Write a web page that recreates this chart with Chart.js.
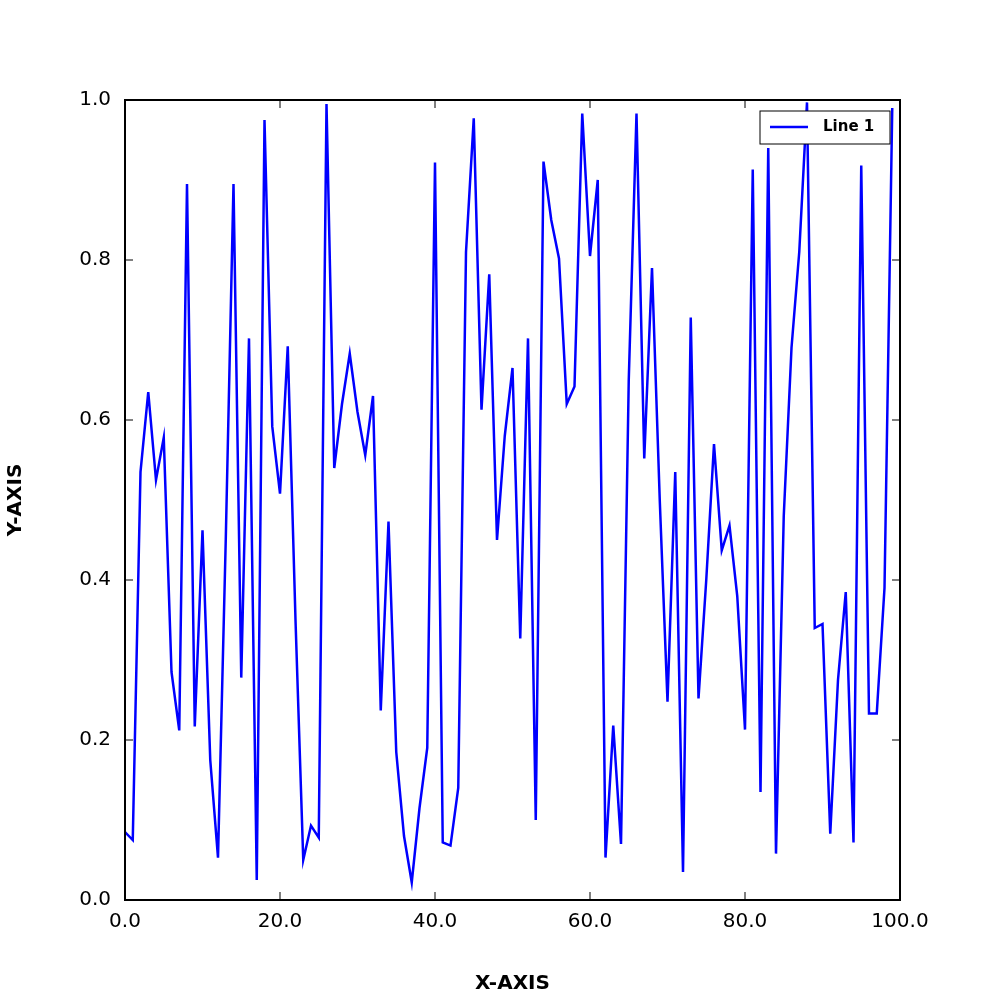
<!DOCTYPE html>
<html><head><script src="https://cdn.jsdelivr.net/npm/chart.js@4"></script>
<style>body{margin:0;background:#fff}#w{width:1000px;height:1000px}</style></head>
<body><div id="w"><canvas id="c"></canvas></div>
<script>
const xValues = Array.from({length:100},(_, i)=>i);
const line1 = [0.085,0.075,0.535,0.635,0.525,0.578,0.285,0.212,0.895,0.217,0.462,0.175,0.053,0.45,0.895,0.278,0.702,0.025,0.975,0.592,0.508,0.692,0.35,0.05,0.093,0.078,0.995,0.54,0.62,0.683,0.61,0.556,0.63,0.237,0.473,0.185,0.08,0.022,0.115,0.19,0.922,0.072,0.068,0.14,0.81,0.977,0.613,0.782,0.45,0.58,0.665,0.327,0.702,0.1,0.923,0.85,0.802,0.62,0.642,0.983,0.805,0.9,0.053,0.218,0.07,0.65,0.983,0.552,0.79,0.5,0.248,0.535,0.035,0.728,0.252,0.4,0.57,0.437,0.468,0.38,0.213,0.913,0.135,0.94,0.058,0.48,0.69,0.81,0.997,0.34,0.345,0.083,0.275,0.385,0.072,0.918,0.233,0.233,0.39,0.99];
const xTicks=[0,20,40,60,80,100], yTicks=[0,0.2,0.4,0.6,0.8,1.0];
const frame={id:'frame',afterDraw(ch){const {ctx,chartArea:a,scales:{x,y}}=ch;ctx.save();ctx.strokeStyle='#000';ctx.lineWidth=1;
ctx.beginPath();xTicks.forEach(v=>{const p=x.getPixelForValue(v);ctx.moveTo(p,a.bottom);ctx.lineTo(p,a.bottom-8);ctx.moveTo(p,a.top);ctx.lineTo(p,a.top+8);});
yTicks.forEach(v=>{const p=y.getPixelForValue(v);ctx.moveTo(a.left,p);ctx.lineTo(a.left+8,p);ctx.moveTo(a.right,p);ctx.lineTo(a.right-8,p);});ctx.stroke();
ctx.lineWidth=2;ctx.strokeRect(a.left,a.top,a.right-a.left,a.bottom-a.top);
ctx.lineWidth=1;ctx.fillStyle='#fff';ctx.fillRect(760,111,130,33);ctx.strokeRect(760,111,130,33);
ctx.strokeStyle='#0000ff';ctx.lineWidth=2.5;ctx.beginPath();ctx.moveTo(770,127);ctx.lineTo(808,127);ctx.stroke();
ctx.fillStyle='#000';ctx.font='bold 15px "DejaVu Sans"';ctx.textBaseline='middle';ctx.fillText('Line 1',823,127);ctx.restore();}};
new Chart(document.getElementById('c'),{type:'line',
data:{datasets:[{label:'Line 1',data:xValues.map((v,i)=>({x:v,y:line1[i]})),borderColor:'#0000ff',borderWidth:2.5,pointRadius:0,tension:0,fill:false}]},
options:{responsive:true,maintainAspectRatio:false,animation:false,layout:{padding:{top:100,right:100,left:0,bottom:0}},
plugins:{legend:{display:false},tooltip:{enabled:false}},
scales:{x:{type:'linear',min:0,max:100,afterFit(s){s.height=100;},afterBuildTicks(s){s.ticks=xTicks.map(v=>({value:v}));},
grid:{display:false},border:{display:false},ticks:{color:'#000',padding:2,font:{size:20,family:'"DejaVu Sans"'},callback:v=>v.toFixed(1),maxRotation:0},
title:{display:true,text:'X-AXIS',color:'#000',font:{size:20,weight:'bold',family:'"DejaVu Sans"'},padding:{top:0}}},
y:{min:0,max:1,afterFit(s){s.width=125;},afterBuildTicks(s){s.ticks=yTicks.map(v=>({value:v}));},
grid:{display:false},border:{display:false},ticks:{color:'#000',padding:6,font:{size:20,family:'"DejaVu Sans"'},callback:v=>v.toFixed(1)},
title:{display:true,text:'Y-AXIS',color:'#000',font:{size:20,weight:'bold',family:'"DejaVu Sans"'},padding:{bottom:20}}}}},
plugins:[frame]});
</script></body></html>
